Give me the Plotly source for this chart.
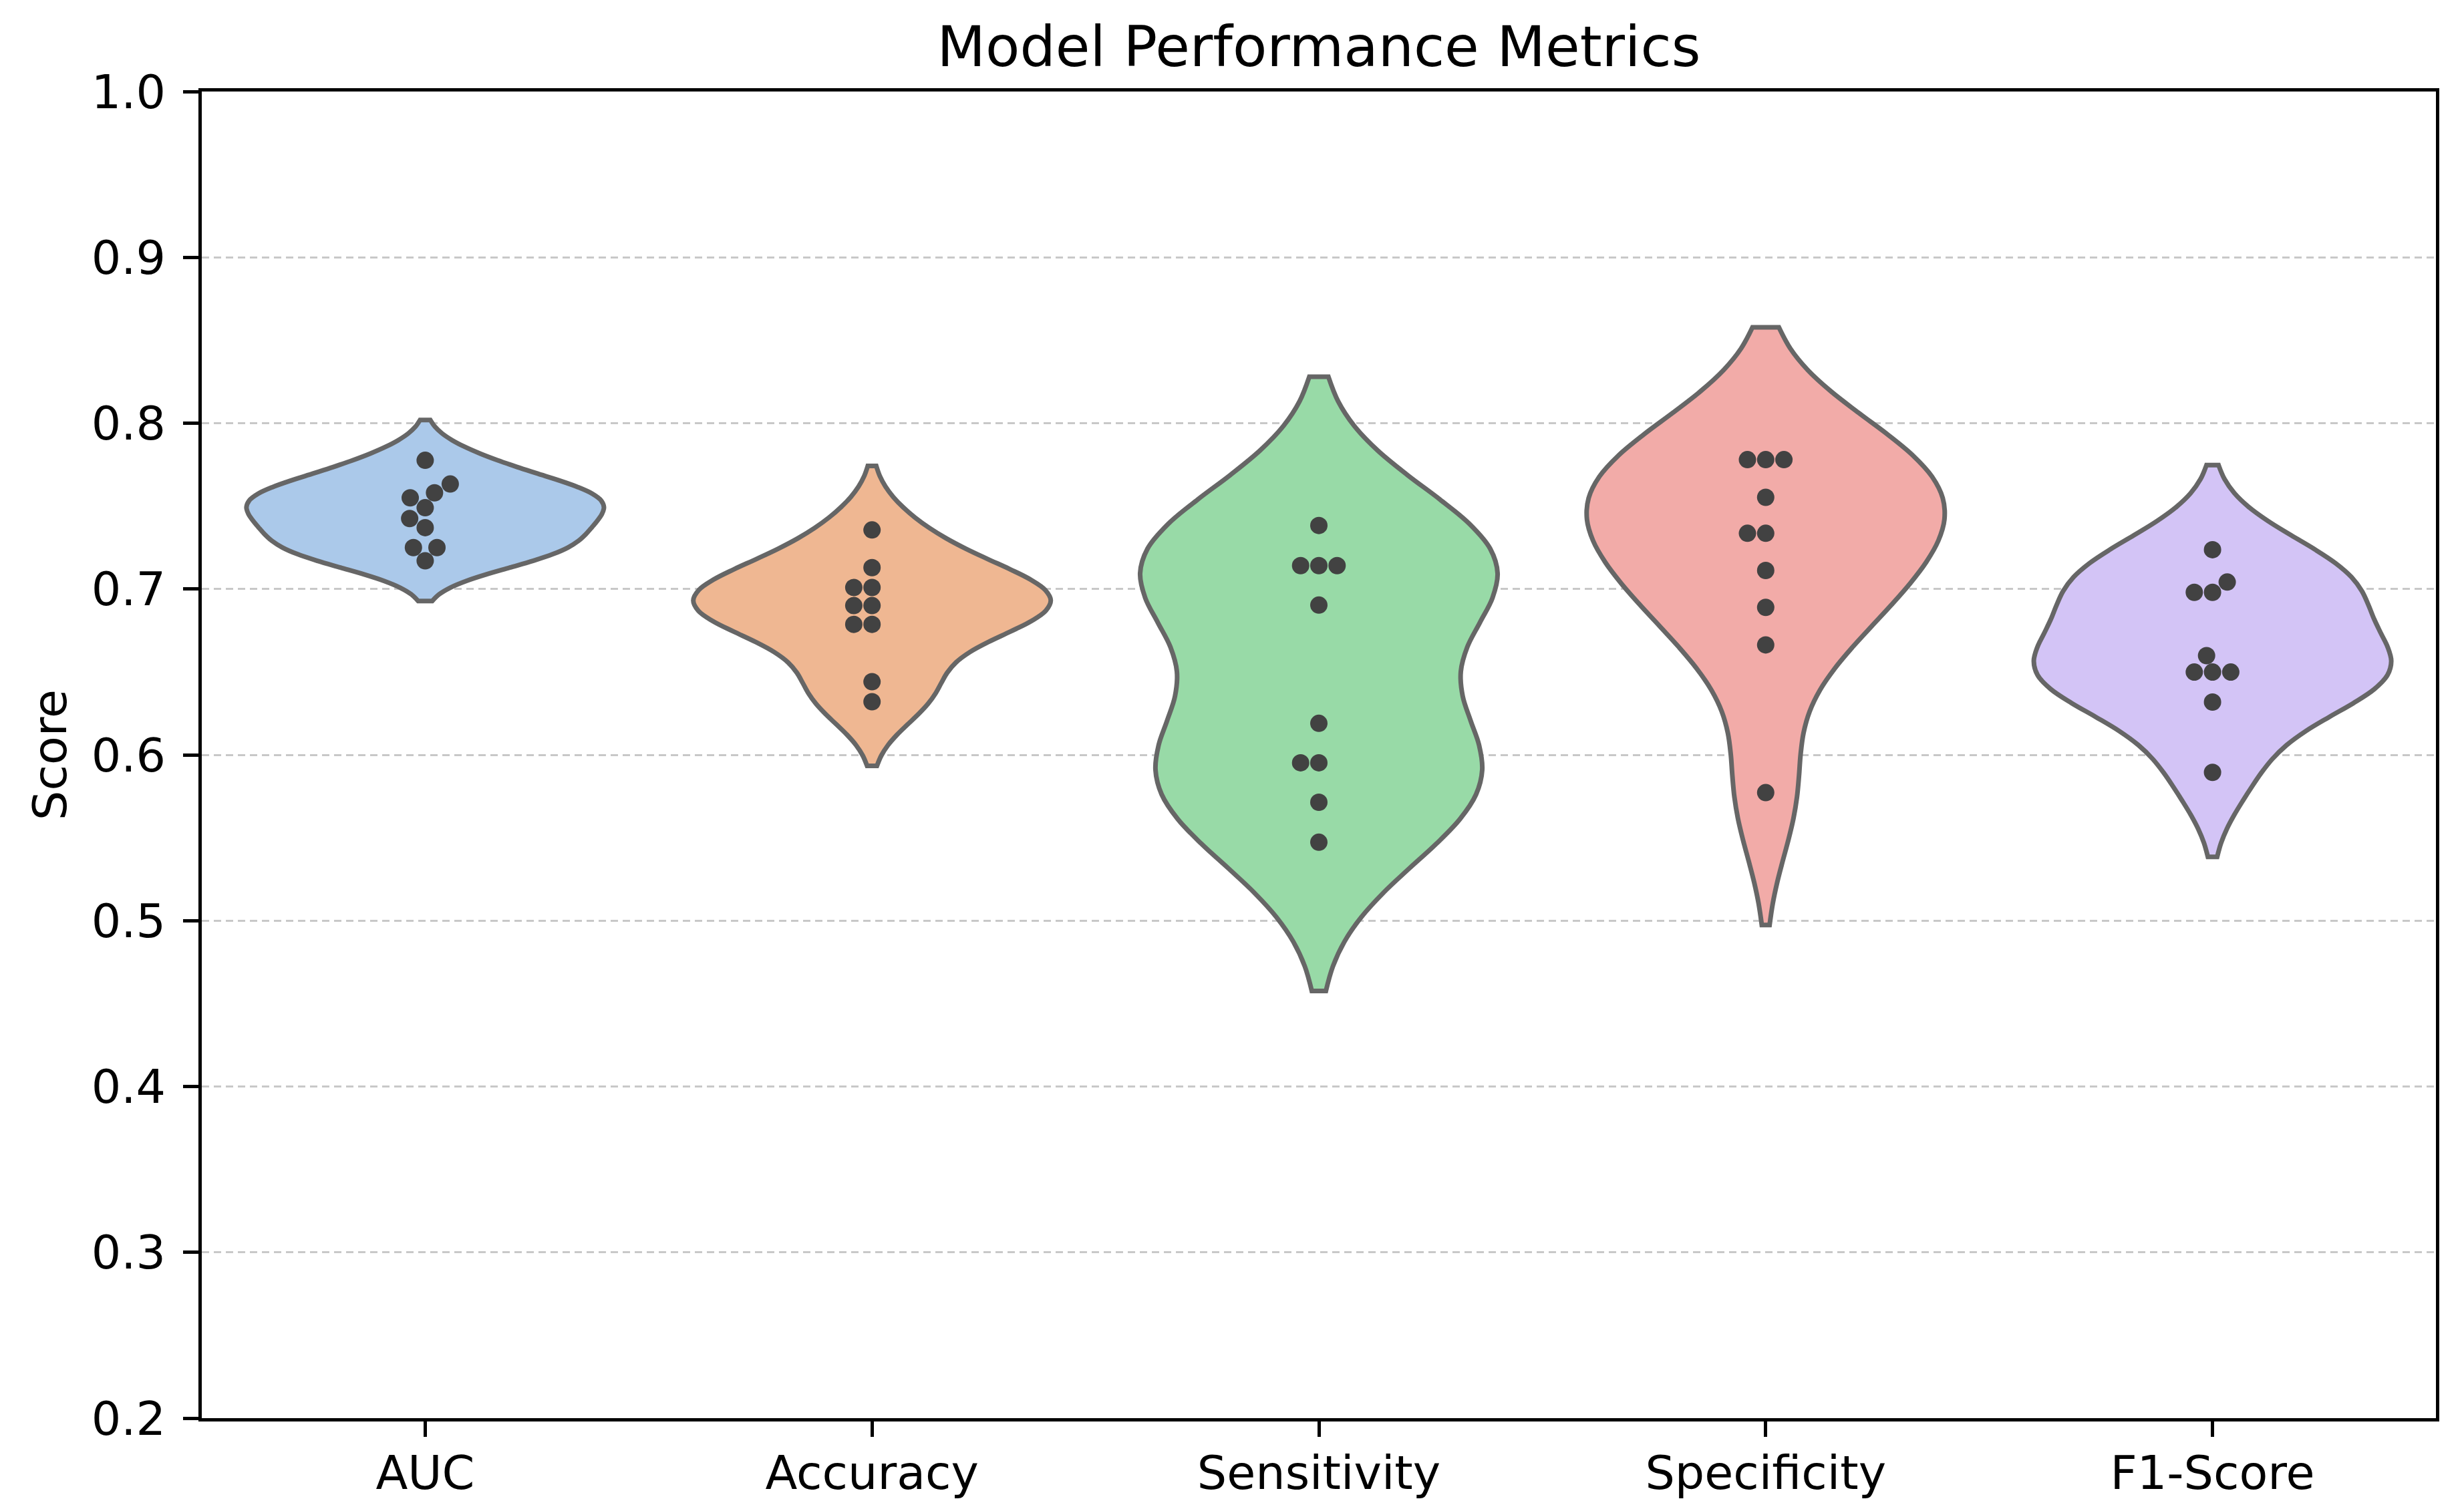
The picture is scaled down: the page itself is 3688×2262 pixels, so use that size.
import colorsys
import numpy as np
import plotly.graph_objects as go

# scores per metric (10 runs each)
metrics = ["AUC", "Accuracy", "Sensitivity", "Specificity", "F1-Score"]
auc = [0.7776, 0.7633, 0.758, 0.755, 0.749, 0.7425, 0.737, 0.725, 0.725, 0.717]
accuracy = [0.7356, 0.7129, 0.7009, 0.7009, 0.690, 0.690, 0.6787, 0.6787, 0.6441, 0.632]
sensitivity = [0.7383, 0.7141, 0.7141, 0.7141, 0.6903, 0.619, 0.5952, 0.5952, 0.5714, 0.5473]
specificity = [0.778, 0.778, 0.778, 0.7553, 0.7336, 0.7336, 0.7112, 0.6889, 0.6663, 0.5772]
f1_score = [0.7237, 0.7042, 0.698, 0.698, 0.6598, 0.6499, 0.6499, 0.6499, 0.6318, 0.5894]
scores = [auc, accuracy, sensitivity, specificity, f1_score]

pastel = ["#a1c9f4", "#ffb482", "#8de5a1", "#ff9f9b", "#d0bbff"]


def desaturate(hexcol, prop=0.75):
    r, g, b = (int(hexcol[i:i + 2], 16) / 255 for i in (1, 3, 5))
    h, l, s = colorsys.rgb_to_hls(r, g, b)
    r, g, b = colorsys.hls_to_rgb(h, l, s * prop)
    return "#%02x%02x%02x" % (round(r * 255), round(g * 255), round(b * 255))


W, H = 3688, 2262
ML, MR, MT, MB = 302, 42, 137, 139
px_x = (W - ML - MR) / 5.0      # pixels per category unit
px_y = (H - MT - MB) / 0.8      # pixels per score unit
DOT = 26                         # marker diameter, px


def swarm(vals):
    # simple beeswarm like seaborn: place sorted points at nearest free x
    order = np.argsort(vals, kind="stable")
    ys = np.array(vals)[order] * px_y
    r = DOT / 2.0
    placed = []
    out = np.zeros(len(vals))
    for k, y in zip(order, ys):
        nb = [(px, py) for px, py in placed if abs(y - py) < 2 * r]
        cands = [0.0]
        left = True
        for px, py in nb:
            dx = np.sqrt(max((2 * r) ** 2 - (y - py) ** 2, 0)) * 1.05
            pair = [px - dx, px + dx] if left else [px + dx, px - dx]
            cands.extend(pair)
            left = not left
        cands = sorted(cands, key=abs)
        best = cands[-1]
        for c in cands:
            if all((c - px) ** 2 + (y - py) ** 2 >= (2 * r) ** 2 - 1e-6 for px, py in nb):
                best = c
                break
        placed.append((best, y))
        out[k] = best / px_x
    return out


fig = go.Figure()

for i, (name, vals) in enumerate(zip(metrics, scores)):
    bw = np.std(vals, ddof=1) * len(vals) ** (-0.2)
    fig.add_trace(go.Violin(
        x=[i] * len(vals), y=vals, name=name,
        width=0.8, scalegroup="all", scalemode="width",
        spanmode="soft", bandwidth=bw, points=False,
        fillcolor=desaturate(pastel[i]), opacity=1,
        line=dict(color="#666666", width=7),
        box_visible=False, meanline_visible=False,
        showlegend=False, hoverinfo="skip",
    ))

for i, vals in enumerate(scores):
    off = swarm(vals)
    fig.add_trace(go.Scatter(
        x=i + off, y=vals, mode="markers",
        marker=dict(size=DOT, color="#424242", line=dict(width=0)),
        showlegend=False, hoverinfo="skip",
    ))

axis_common = dict(
    showline=True, linecolor="black", linewidth=5, mirror=True,
    ticks="outside", ticklen=23, tickwidth=5, tickcolor="black",
    tickfont=dict(family="DejaVu Sans", size=70, color="black"),
    zeroline=False,
)

fig.update_layout(
    width=W, height=H,
    margin=dict(l=ML, r=MR, t=MT, b=MB, autoexpand=False),
    paper_bgcolor="white", plot_bgcolor="white",
    violinmode="overlay",
    font=dict(family="DejaVu Sans", color="black"),
    title=dict(text="Model Performance Metrics", x=0.5, xref="paper", xanchor="center",
               y=1, yref="paper", yanchor="bottom", pad=dict(b=38),
               font=dict(family="DejaVu Sans", size=84, color="black")),
    xaxis=dict(range=[-0.5, 4.5], tickvals=list(range(5)), ticktext=metrics,
               showgrid=False, ticklabelstandoff=-6, **axis_common),
    yaxis=dict(range=[0.2, 1.0], tickvals=[0.2, 0.3, 0.4, 0.5, 0.6, 0.7, 0.8, 0.9, 1.0],
               tickformat=".1f", showgrid=True, gridcolor="#c8c8c8", gridwidth=3,
               griddash="11px,7px", ticklabelstandoff=12,
               title=dict(text="Score", standoff=16,
                          font=dict(family="DejaVu Sans", size=70, color="black")),
               **axis_common),
)

fig.write_html("out.html", config={"displayModeBar": False},
               post_script="document.body.style.margin='0px';")
